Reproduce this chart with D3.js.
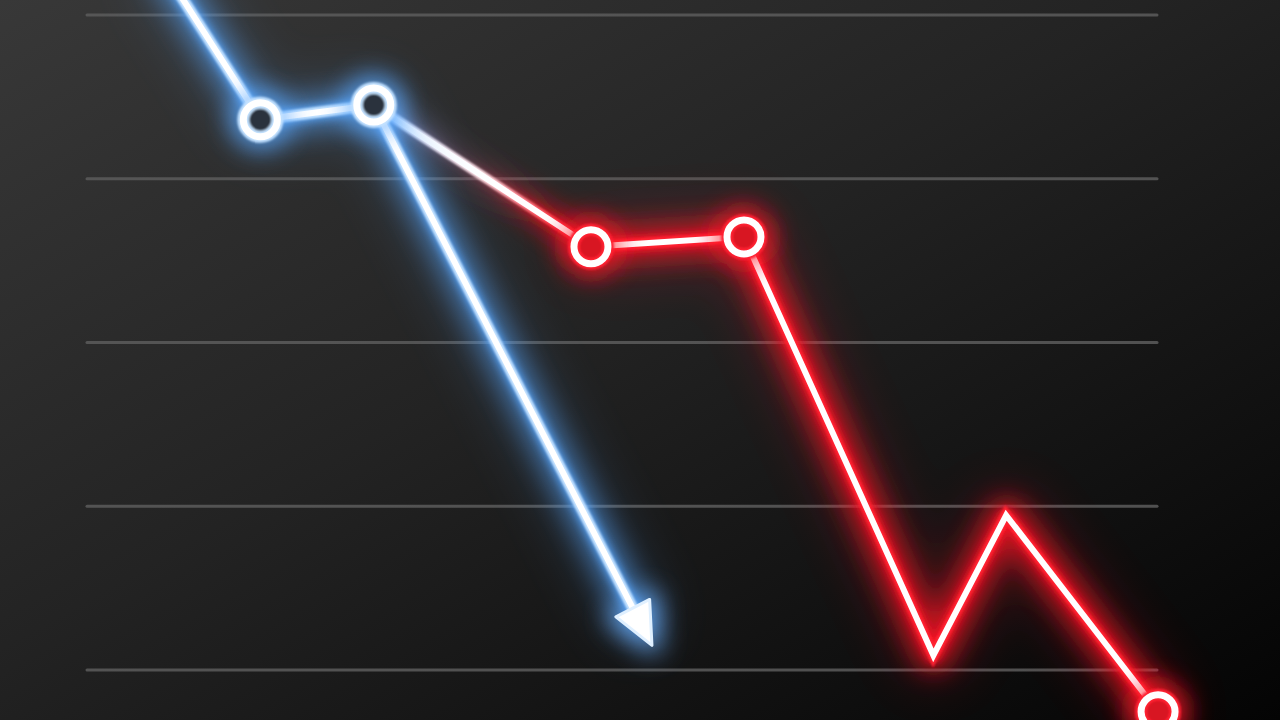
<!DOCTYPE html>
<html><head><meta charset="utf-8">
<script src="https://cdn.jsdelivr.net/npm/d3@7"></script>
<style>html,body{margin:0;padding:0;background:#111;overflow:hidden}</style>
</head><body>
<svg id="c" width="1280" height="720"></svg>
<script>
// Data (x: time position 0..100, y: value)
const gridValues = [100, 80, 60, 40, 20];
const blueX = [7.2, 16.2, 26.8, 52.8];
const blueY = [105.5, 87.2, 89.0, 23.0];
const blueMarkers = [1, 2];          // indices with circle markers
const redX = [26.8, 47.1, 61.4, 79.1, 85.9, 100.1];
const redY = [89.0, 71.7, 72.9, 21.8, 38.9, 14.9];
const redMarkers = [1, 2, 5];

const W = 1280, H = 720;
const svg = d3.select("#c");
const x = d3.scaleLinear().domain([0, 100]).range([87, 1157]);
const y = d3.scaleLinear().domain([20, 100]).range([670, 15]);

const defs = svg.append("defs");
const bg = defs.append("linearGradient").attr("id","bg")
  .attr("x1","0").attr("y1","0").attr("x2","1").attr("y2","1");
bg.append("stop").attr("offset","0").attr("stop-color","#383838");
bg.append("stop").attr("offset","0.45").attr("stop-color","#232323");
bg.append("stop").attr("offset","1").attr("stop-color","#040404");

function blurFilter(id, sd) {
  const f = defs.append("filter").attr("id", id).attr("filterUnits","userSpaceOnUse")
    .attr("x",-200).attr("y",-200).attr("width",W+400).attr("height",H+400);
  f.append("feGaussianBlur").attr("stdDeviation", sd);
}
blurFilter("wide", 28);
blurFilter("glow", 13);
blurFilter("glow2", 4);
blurFilter("soft", 0.8);

svg.append("rect").attr("width",W).attr("height",H).attr("fill","url(#bg)");

// gridlines
svg.append("g").attr("class","grid").selectAll("line").data(gridValues).join("line")
  .attr("x1", x(0)).attr("x2", x(100))
  .attr("y1", d => y(d)).attr("y2", d => y(d))
  .attr("stroke","#5c5c5c").attr("stroke-width",3).attr("stroke-linecap","round")
  .attr("opacity",0.85);

const line = d3.line().x(d => x(d[0])).y(d => y(d[1]));
const blue = blueX.map((v,i)=>[v, blueY[i]]);
const red = redX.map((v,i)=>[v, redY[i]]);

// arrow head geometry from the last blue segment
const p1 = blue[blue.length-2], p2 = blue[blue.length-1];
const ax1 = x(p1[0]), ay1 = y(p1[1]), ax2 = x(p2[0]), ay2 = y(p2[1]);
const ang = Math.atan2(ay2-ay1, ax2-ax1);
const L = 42, Wd = 19;
const bx = ax2 - L*Math.cos(ang), by = ay2 - L*Math.sin(ang);
const arrowPts = [[ax2, ay2],
  [bx + Wd*Math.sin(ang), by - Wd*Math.cos(ang)],
  [bx - Wd*Math.sin(ang), by + Wd*Math.cos(ang)]];
const arrowPath = "M" + arrowPts.map(p=>p.join(",")).join("L") + "Z";
const blueLine = blue.slice(0, -1).concat([[x.invert(bx + 10*Math.cos(ang)), y.invert(by + 10*Math.sin(ang))]]);

// gradient for red segment start (blue -> red glow)
function segGrad(id, stops) {
  const g = defs.append("linearGradient").attr("id", id).attr("gradientUnits","userSpaceOnUse")
    .attr("x1", x(red[0][0])).attr("y1", y(red[0][1])).attr("x2", x(red[1][0])).attr("y2", y(red[1][1]));
  stops.forEach(s => g.append("stop").attr("offset", s[0]).attr("stop-color", s[1]).attr("stop-opacity", s[2]));
}
segGrad("rg", [[0,"#7fb8ff",0.6],[0.4,"#a06080",0.25],[0.75,"#ff1020",0.6],[1,"#ff1020",1]]);
segGrad("rgEdge", [[0,"#e0efff",1],[0.5,"#ffe0e4",1],[0.85,"#ff3040",1],[1,"#ff2030",1]]);

function drawSeries(g, pts, markerIdx, colors, firstSegPaint) {
  const [glowC, edgeC, fillC, glowOp] = colors;
  const d = line(pts);
  const segFirst = line(pts.slice(0,2));
  const rest = line(pts.slice(1));
  const glowD = firstSegPaint ? rest : d;
  g.append("path").attr("d", glowD).attr("fill","none").attr("stroke", glowC)
    .attr("stroke-width", 40).attr("stroke-linejoin","round").attr("stroke-linecap","round")
    .attr("filter","url(#wide)").attr("opacity",glowOp*0.45);
  g.append("path").attr("d", glowD).attr("fill","none").attr("stroke", glowC)
    .attr("stroke-width", 32).attr("stroke-linejoin","round").attr("stroke-linecap","round")
    .attr("filter","url(#glow)").attr("opacity",glowOp);
  g.append("path").attr("d", glowD).attr("fill","none").attr("stroke", glowC)
    .attr("stroke-width", 14).attr("stroke-linejoin","round").attr("stroke-linecap","round")
    .attr("filter","url(#glow2)").attr("opacity",0.9);
  if (firstSegPaint) {
    g.append("path").attr("d", segFirst).attr("fill","none").attr("stroke", firstSegPaint[0])
      .attr("stroke-width", 24).attr("filter","url(#glow)");
    g.append("path").attr("d", segFirst).attr("fill","none").attr("stroke", firstSegPaint[0])
      .attr("stroke-width", 12).attr("filter","url(#glow2)");
  }
  g.append("path").attr("d", glowD).attr("fill","none").attr("stroke", edgeC)
    .attr("stroke-width", 11).attr("stroke-linejoin","miter").attr("stroke-linecap","round").attr("filter","url(#soft)");
  if (firstSegPaint) {
    g.append("path").attr("d", segFirst).attr("fill","none").attr("stroke", firstSegPaint[1])
      .attr("stroke-width", 10).attr("stroke-linecap","round").attr("filter","url(#soft)");
  }
  g.append("path").attr("d", d).attr("fill","none").attr("stroke","#fff")
    .attr("stroke-width", 6).attr("stroke-linejoin","miter").attr("stroke-linecap","round");
  const m = g.selectAll("g.m").data(markerIdx.map(i=>pts[i])).join("g").attr("class","m");
  m.append("circle").attr("cx", p=>x(p[0])).attr("cy", p=>y(p[1])).attr("r", 20)
    .attr("fill","none").attr("stroke", glowC).attr("stroke-width", 18).attr("filter","url(#glow)").attr("opacity",0.9);
  m.append("circle").attr("cx", p=>x(p[0])).attr("cy", p=>y(p[1])).attr("r", 17)
    .attr("fill", fillC).attr("stroke", edgeC).attr("stroke-width", 12).attr("filter","url(#soft)");
  m.append("circle").attr("cx", p=>x(p[0])).attr("cy", p=>y(p[1])).attr("r", 17)
    .attr("fill","none").attr("stroke","#fff").attr("stroke-width", 7);
}

const gRed = svg.append("g");
drawSeries(gRed, red, redMarkers, ["#ff1428", "#ff2030", "#d81424", 0.7], ["url(#rg)", "url(#rgEdge)"]);

const gBlue = svg.append("g");
gBlue.append("path").attr("d", arrowPath).attr("fill","#6fb2ff").attr("stroke","#6fb2ff")
  .attr("stroke-width", 18).attr("stroke-linejoin","round").attr("filter","url(#glow)").attr("opacity",0.8);
drawSeries(gBlue, blueLine, blueMarkers, ["#5aa8ff", "#c4e2ff", "#2a323c", 0.55], null);
gBlue.append("path").attr("d", arrowPath).attr("fill","#fff").attr("stroke","#e0f0ff")
  .attr("stroke-width", 3).attr("stroke-linejoin","round");
</script>
</body></html>
